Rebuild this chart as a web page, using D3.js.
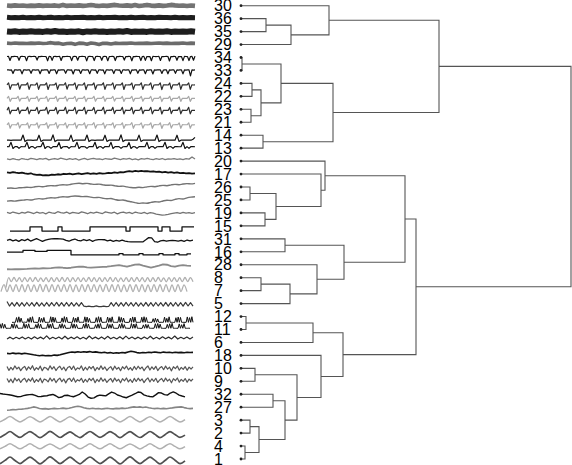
<!DOCTYPE html>
<html>
<head>
<meta charset="utf-8">
<script src="https://cdn.jsdelivr.net/npm/d3@7"></script>
<style>
  body { margin: 0; background: #fff; }
</style>
</head>
<body>
<script>
// hclust style merge table: negative = leaf label, positive = earlier merge (1-based)
var merges = [
    [-34, -33], [-4, -1], [-12, -11], [-26, -25], [-3, -2],
    [-23, -21], [-24, -22], [-10, -9], [5, 2], [7, 6],
    [-8, -7], [-14, -13], [-19, -15], [-36, -35], [-32, -27],
    [4, 13], [1, 10], [-31, -16], [15, 9], [11, -5],
    [14, -29], [8, 19], [3, -6], [-28, 20], [-17, 16],
    [-18, 22], [-20, 25], [-30, 21], [17, 12], [23, 26],
    [18, 24], [27, 31], [32, 30], [28, 29], [34, 33]
];
var mergeHeights = [
    0.01, 0.04, 0.05, 0.09, 0.09,
    0.10, 0.11, 0.14, 0.18, 0.20,
    0.20, 0.22, 0.24, 0.25, 0.32,
    0.35, 0.40, 0.44, 0.44, 0.49,
    0.50, 0.56, 0.72, 0.76, 0.80,
    0.80, 0.84, 0.88, 0.92, 1.02,
    1.03, 1.64, 1.75, 1.98, 3.30
];

// the time series shown beside each leaf
var ts30 = [0.2,-0.2,0.3,-0.1,0.2,-0.3,0.1,-0.2,0.3,-0.2,0.2,-0.1,0.3,-0.3,0.8,-0.2,0.2,-0.1,0.3,-0.2,0.2,0.7,0.1,-0.3,0.2,-0.2,0.3,0.8,0.2,-0.1,0.3,-0.2,0.7,-0.3,0.2,0.8,0.1,-0.2,0.3,-0.2,0.2,0.8,0.3,-0.1,0.2,-0.3,0.2,-0.2];
var ts36 = [1.3,0.9,1.2,1.0,1.4,0.8,1.2,1.0,1.3,0.9,1.1,1.4,0.8,1.2,1.0,1.3,0.9,1.2,1.1,1.4,0.9,1.2,1.0,1.3,0.8,1.2,1.1,1.3,0.9,1.2,1.0,1.4,0.9,1.1,1.3,1.0,1.2,0.8,1.3,1.1,1.2,0.9,1.3,1.0,1.2,0.9,1.1,1.0];
var ts35 = [0.2,-0.2,0.3,-0.3,0.1,-0.2,0.3,-0.1,0.2,-0.3,0.3,-0.2,0.6,-0.1,0.2,-0.3,0.1,-0.2,0.3,-0.6,0.2,-0.1,0.3,-0.2,0.1,-0.3,0.2,-0.2,0.3,-0.1,0.6,-0.3,0.2,-0.2,0.1,-0.3,0.3,-0.1,0.2,-0.2,0.3,-0.3,0.1,-0.2,0.2,-0.1,0.3,-0.2];
var ts29 = [1.4,1.1,1.5,1.2,1.3,1.0,1.4,1.2,1.5,1.1,1.3,1.9,1.2,1.4,0.4,1.1,1.3,0.2,1.4,1.2,0.3,1.5,1.1,0.1,1.3,1.2,0.5,1.4,1.1,1.3,1.2,1.5,1.0,1.3,1.2,1.4,1.1,1.3,1.5,1.2,1.4,1.1,1.3,1.2,1.5,1.1,1.4,1.2];
var ts34 = [1.0,1.1,-3.0,1.0,0.9,1.1,1.0,0.9,-2.8,1.0,1.1,1.0,0.9,-3.2,1.0,1.1,0.9,1.0,1.2,1.0,-2.6,1.0,0.9,1.1,1.0,1.0,0.9,-3.3,1.1,1.0,-2.9,1.0,1.2,0.9,1.0,1.1,-3.0,1.0,0.9,1.0,1.1,1.0,0.9,-3.1,1.0,1.1,1.0,-2.7,0.9,1.0,1.1,1.0,0.9,-3.4,1.0,1.1,1.0,0.9,-3.0,1.0,1.1,1.0,0.9,-2.8,1.0,1.1,1.0,-3.2,0.9,1.0,1.1,1.0,-3.0,1.0,0.9,1.1,1.0,1.0,-2.6,1.0,0.9,1.1,1.0,-3.3,1.0,0.9,1.1,1.0,1.0,-3.0,1.0,1.1,-2.9,1.0,0.9,1.0,-3.2,1.1,1.0,0.9,1.0,1.1,-3.0,1.0,0.9,1.0,1.1,1.0,-3.5,1.0,0.9,1.1,1.0,-2.8,1.0,0.9,1.0,-3.1,1.1,1.0,0.9,-3.0,1.0,1.1,-2.7,1.4];
var ts33 = [0.5,0.6,0.4,0.5,-3.1,0.5,0.6,0.4,0.5,0.5,-3.4,0.5,0.6,0.4,0.5,0.5,-2.9,0.6,0.5,0.4,0.5,0.6,-3.2,0.5,0.4,0.5,0.6,0.5,-3.0,0.5,0.4,0.6,0.5,-3.3,0.5,0.4,0.6,0.5,0.5,-2.8,0.5,0.6,0.4,0.5,-3.5,0.5,0.6,0.4,0.5,-3.0,0.5,0.6,0.4,0.5,0.5,-3.2,0.6,0.5,0.4,0.5,-2.9,0.5,0.6,0.4,0.5,-3.4,0.5,0.6,0.4,0.5,0.5,-3.1,0.6,0.5,0.4,0.5,-3.0,0.6,0.5,0.4,0.5,0.6,-3.3,0.5,0.4,0.5,0.6,-2.8,0.5,0.4,0.6,0.5,-3.2,0.5,0.4,0.6,0.5,-3.5,0.5,0.4,0.6,0.5,0.5,-3.0,0.4,0.6,0.5,-3.3,0.5,0.4,0.6,0.5,-2.9,0.5,0.4,0.6,0.5,-3.4,0.5,0.4,0.6,0.5,-5.5,0.5,0.4,0.6];
var ts24 = [
    -1.5,0.5,-6.0,-1.5,-1.5,-1.5, -1.6,0.4,-5.8,-1.5,-1.4,-1.5, -1.5,0.6,-6.0,-1.4,-1.5,-1.6, -1.5,0.5,-5.9,-1.5,-1.5,-1.4,
    -1.4,0.5,-6.1,-1.5,-1.6,-1.5, -1.5,0.4,-6.0,-1.5,-1.5,-1.5, -1.6,0.6,-5.8,-1.4,-1.5,-1.5, -1.5,0.5,-6.0,-1.5,-1.4,-1.6,
    -1.5,0.5,-6.2,-1.5,-1.5,-1.5, -1.4,0.4,-5.9,-1.6,-1.5,-1.5, -1.5,0.6,-6.0,-1.5,-1.5,-1.4, -1.6,0.5,-5.8,-1.5,-1.5,-1.5,
    -1.5,0.5,-6.1,-1.4,-1.6,-1.5, -1.5,0.4,-6.0,-1.5,-1.5,-1.5, -1.4,0.6,-5.9,-1.5,-1.5,-1.6, -1.5,0.5,-6.0,-1.6,-1.4,-1.5,
    -1.5,0.5,-6.2,-1.5,-1.5,-1.5, -1.6,0.4,-5.8,-1.5,-1.5,-1.4, -1.5,0.6,-6.0,-1.4,-1.5,-1.5, -1.5,0.5,-6.0,-1.5,-1.6,-1.5
];
var ts22 = [
    -2.0,0.0,-5.0,-2.0,-2.0,-2.0, -2.1,0.1,-4.8,-2.0,-1.9,-2.0, -2.0,-0.1,-5.0,-1.9,-2.0,-2.1, -2.0,0.0,-4.9,-2.0,-2.0,-1.9,
    -1.9,0.0,-5.1,-2.0,-2.1,-2.0, -2.0,0.1,-5.0,-2.0,-2.0,-2.0, -2.1,-0.1,-4.8,-1.9,-2.0,-2.0, -2.0,0.0,-5.0,-2.0,-1.9,-2.1,
    -2.0,0.0,-5.2,-2.0,-2.0,-2.0, -1.9,0.1,-4.9,-2.1,-2.0,-2.0, -2.0,-0.1,-5.0,-2.0,-2.0,-1.9, -2.1,0.0,-4.8,-2.0,-2.0,-2.0,
    -2.0,0.0,-5.1,-1.9,-2.1,-2.0, -2.0,0.1,-5.0,-2.0,-2.0,-2.0, -1.9,-0.1,-4.9,-2.0,-2.0,-2.1, -2.0,0.0,-5.0,-2.1,-1.9,-2.0,
    -2.0,0.0,-5.2,-2.0,-2.0,-2.0, -2.1,0.1,-4.8,-2.0,-2.0,-1.9, -2.0,-0.1,-5.0,-1.9,-2.0,-2.0, -2.0,0.0,-5.0,-2.0,-2.1,-2.0
];
var ts23 = [
    -1.0,2.0,-4.5,-1.0,-1.0,-1.0, -1.1,1.9,-4.3,-1.0,-0.9,-1.0, -1.0,2.1,-4.5,-0.9,-1.0,-1.1, -1.0,2.0,-4.4,-1.0,-1.0,-0.9,
    -0.9,2.0,-4.6,-1.0,-1.1,-1.0, -1.0,1.9,-4.5,-1.0,-1.0,-1.0, -1.1,2.1,-4.3,-0.9,-1.0,-1.0, -1.0,2.0,-4.5,-1.0,-0.9,-1.1,
    -1.0,2.0,-4.7,-1.0,-1.0,-1.0, -0.9,1.9,-4.4,-1.1,-1.0,-1.0, -1.0,2.1,-4.5,-1.0,-1.0,-0.9, -1.1,2.0,-4.3,-1.0,-1.0,-1.0,
    -1.0,2.0,-4.6,-0.9,-1.1,-1.0, -1.0,1.9,-4.5,-1.0,-1.0,-1.0, -0.9,2.1,-4.4,-1.0,-1.0,-1.1, -1.0,2.0,-4.5,-1.1,-0.9,-1.0,
    -1.0,2.0,-4.7,-1.0,-1.0,-1.0, -1.1,1.9,-4.3,-1.0,-1.0,-0.9, -1.0,2.1,-4.5,-0.9,-1.0,-1.0, -1.0,2.0,-4.5,-1.0,-1.1,-1.0
];
var ts21 = [
    -2.5,-0.5,-6.0,-2.5,-2.5,-2.5, -2.6,-0.4,-5.8,-2.5,-2.4,-2.5, -2.5,-0.6,-6.0,-2.4,-2.5,-2.6, -2.5,-0.5,-5.9,-2.5,-2.5,-2.4,
    -2.4,-0.5,-6.1,-2.5,-2.6,-2.5, -2.5,-0.4,-6.0,-2.5,-2.5,-2.5, -2.6,-0.6,-5.8,-2.4,-2.5,-2.5, -2.5,-0.5,-6.0,-2.5,-2.4,-2.6,
    -2.5,-0.5,-6.2,-2.5,-2.5,-2.5, -2.4,-0.4,-5.9,-2.6,-2.5,-2.5, -2.5,-0.6,-6.0,-2.5,-2.5,-2.4, -2.6,-0.5,-5.8,-2.5,-2.5,-2.5,
    -2.5,-0.5,-6.1,-2.4,-2.6,-2.5, -2.5,-0.4,-6.0,-2.5,-2.5,-2.5, -2.4,-0.6,-5.9,-2.5,-2.5,-2.6, -2.5,-0.5,-6.0,-2.6,-2.4,-2.5,
    -2.5,-0.5,-6.2,-2.5,-2.5,-2.5, -2.6,-0.4,-5.8,-2.5,-2.5,-2.4, -2.5,-0.6,-6.0,-2.4,-2.5,-2.5, -2.5,-0.5,-6.0,-2.5,-2.6,-2.5
];
var ts14 = [-5,-5,-5.1,-5,-5,-4.9,-5,-5,0.2,-6.3,-5,-5,-5,-5.1,-5,-5,0,-6.2,-5,-5,-5,-5,-5,0.3,-6.4,-5,-5,-5,-4.9,-5,-5,-5,0.1,-6.2,-5,-5,-5,-5,-5,-5,0.2,-6.3,-5,-5,-5.1,-5,-5,-5,-5,0,-6.2,-5,-5,-5,-5,-5,-5,0.3,-6.4,-5,-5,-5,-5,-5,-5,-5,0.1,-6.2,-5,-5,-5,-5,-5,-5,-5,0.2,-6.3,-5,-5,-5,-5,-5,-5,-5,-5,0,-6.2,-5,-5,-5,-5,-5,-5,-4,-2.2];
var ts13 = [1.5,1.4,5.8,-0.3,1.5,1.6,-0.2,1.5,1.4,1.5,5.8,-0.3,1.6,1.5,-0.2,1.4,1.5,1.6,5.9,-0.3,1.5,1.4,-0.2,1.5,1.6,1.5,5.7,-0.3,1.4,1.5,1.6,-0.2,1.5,1.4,1.5,5.8,-0.3,1.6,1.5,1.4,-0.2,1.5,1.6,1.5,5.9,-0.3,1.4,1.5,-0.2,1.6,1.5,1.4,5.8,-0.3,1.5,1.6,1.5,-0.2,1.4,1.5,1.6,5.7,-0.3,1.5,1.4,-0.2,1.5,1.6,1.5,1.4,5.8,-0.3,1.5,1.6,-0.2,1.4,1.5,1.6,1.5,5.9,-0.3,1.4,1.5,-0.2,1.6,1.5,1.4,1.5,5.8,-0.3,1.5,-0.2,1.6,1.5,1.4];
var ts20 = [2.3,1.6,2.5,1.8,1.2,2.6,2.0,1.5,2.8,2.2,1.4,2.4,1.9,2.7,1.3,2.1,2.6,1.7,2.9,2.2,1.5,2.5,1.8,2.4,1.1,2.0,2.7,1.6,2.3,2.8,1.9,2.2,1.4,2.6,2.1,1.7,2.9,2.3,1.5,2.4,2.0,2.7,1.6,2.2,1.3,2.5,1.9,2.8,2.1,1.5,2.4,1.8,2.6,1.4,2.2,1.9,2.5,1.7,2.3,1.6,2.4,2.0,4.2,2.2];
var ts17 = [1.7,1.2,2.0,1.4,0.9,1.5,0.6,0.2,0.8,-0.4,-0.9,-0.5,-1.3,-1.0,-1.4,-0.6,-0.9,-0.2,-0.5,0.3,-0.1,0.4,-0.3,0.2,0.6,-0.1,0.5,0.9,0.3,0.7,0.2,1.0,0.4,0.8,1.3,0.9,1.6,1.2,2.0,1.7,2.4,2.9,2.5,3.1,2.7,3.2,2.8,3.0,2.4,2.8,2.1,2.5,1.8,2.2,1.4,1.9,1.2,1.6,0.9,1.3,0.6,1.0,0.4,0.7];
var ts26 = [-1.3,-1.0,-1.4,-0.8,-0.6,-0.2,-0.5,0.3,0.6,0.2,1.0,1.4,1.1,1.9,2.3,2.0,2.8,3.4,3.7,3.3,3.6,3.0,2.6,2.9,2.2,1.7,1.9,1.2,0.6,0.9,0.1,-0.5,-0.7,-0.3,-0.6,0.2,0.6,0.3,1.1,1.6,1.3,2.1,2.6,2.3,3.0,3.4,3.1,3.7];
var ts25 = [-1.1,-0.8,-1.2,-0.5,-0.2,0.3,-0.1,0.8,1.3,0.9,1.7,2.2,1.9,2.7,3.2,2.9,3.6,3.9,3.7,3.3,3.5,2.8,2.3,2.6,1.7,1.2,1.4,0.4,-0.3,0.0,-1.0,-1.8,-2.6,-3.4,-3.0,-3.3,-2.4,-1.8,-2.1,-1.0,-0.3,-0.6,0.6,1.3,1.0,2.1,2.8,3.2];
var ts19 = [0.5,-0.4,0.9,0.1,-0.8,0.6,-0.2,1.1,0.3,-0.6,0.8,-0.1,0.4,-0.9,0.7,0.0,-0.5,1.2,0.2,-0.3,0.9,-0.7,0.5,0.1,-0.4,1.0,0.3,-0.8,0.6,-0.2,0.8,0.0,-0.6,1.1,0.4,-0.3,0.7,-0.9,0.2,0.9,-0.1,0.5,-0.6,0.8,0.1,-0.4,0.6,-0.8,0.3,-0.3,-1.2,-1.6,-2.3,-1.9,-1.4,-0.8,-0.2,0.4,-0.5,0.6,-0.1,0.3,-0.4,0.2];
var ts15 = [-5.2,-5.2,-5.2,-5.2,-5.2,-1,-1,-1,-5.2,-5.2,-5.2,-5.2,-1,-5.2,-5.2,-5.2,-5.2,-5.2,-5.2,-5.2,-1,-1,-1,-1,-1,-1,-1,-1,-1,-5.2,-1,-1,-1,-1,-1,-1,-1,-5.2,-1,-1,-5.2,-5.2,-5.2,-1,-1,-1,-1];
var ts31 = [-1.5,-0.5,-2.0,-1.0,-2.5,-0.8,-1.8,-0.3,-2.2,-1.0,0.2,-1.2,-2.6,-1.4,-0.6,0.0,0.1,0.1,0.0,-0.4,-1.6,-2.4,-1.0,-0.2,-1.5,-2.0,-0.7,-1.8,-0.9,-2.5,-1.2,-0.8,-0.8,-0.9,-2.1,-1.3,-2.6,-1.6,-2.3,-1.4,-2.2,-2.8,-3.0,-3.0,-3.1,-3.0,-3.1,-1.0,1.2,1.0,-2.8,-3.4,-2.0,-1.5,-2.4,-1.8,-1.6,-1.7,-2.3,-1.5,-2.6,-1.2,-2.0,-1.4];
var ts16 = [-0.3,-0.3,-0.3,-0.3,1.4,1.4,1.4,0.4,0.4,0.4,1.4,1.4,1.4,1.4,1.4,1.4,-3,-3,-3,-3,-3,-3,-3,-3,-3,-3,-3,-3,-1.8,-3,-3,-3,-3,-1.8,-3,-3,-3,-3,-1.8,-3,-3,-3,-1.8,-3,-3,-2,-2];
var ts28 = [-4.5,-4.6,-4.4,-4.5,-4.3,-4.2,-3.9,-3.6,-3.8,-3.5,-3.6,-3.4,-3.0,-2.6,-3.0,-3.3,-3.0,-2.5,-2.0,-1.8,-2.6,-3.0,-2.6,-2.4,-2.2,-2.0,-1.5,-0.8,-0.3,-1.2,-2.0,-1.0,0.2,0.4,-0.8,-1.8,-2.8,-2.0,-1.0,0.3,0.0,-1.3,-2.0,-1.0,-0.3,-0.8,-1.2];
var ts8 = [-10,0,-4,0.2,-3.8,0,-4.1,0.1,-3.9,0,-4,0.2,-4,-0.1,-3.8,0,-4.1,0.1,-4,0,-3.9,0.2,-4,0,-4.1,0.1,-3.8,0,-4,-0.1,-4,0.2,-3.9,0,-4.1,0.1,-4,0,-3.8,0.2,-4,0,-4.1,-0.1,-3.9,0.1,-4,0,-4,0.2,-3.8,0,-4.1,0.1,-4,0,-3.9,0.2,-4,-0.1,-4.1,0,-3.8,0.1,-4,0,-4,0.2,-3.9,0,-4];
var ts7 = [-1,6,-1,5.8,-0.9,6.1,-1,5.9,-1.1,6,-1,5.7,-0.9,6.2,-1,5.9,-1.1,6,-1,5.8,-0.9,6.1,-1,6,-1.1,5.8,-1,6.1,-0.9,5.9,-1,6,-1.1,5.7,-1,6.2,-0.9,5.9,-1,6,-1.1,5.8,-1,6.1,-0.9,5.9,-1,6,-1.1,5.8,-1,6.1,-0.9,5.9,-1,6,-1.1,5.7,-1,6.1,-0.9,5.8,-1];
var ts5 = [2.0,-2.5,1.0,-2.5,1.2,-2.6,0.9,-2.5,1.1,-2.4,1.0,-2.6,1.2,-2.5,0.8,-2.5,1.1,-2.6,1.0,-2.4,1.2,-2.5,0.9,-2.6,1.1,-2.5,1.0,-2.5,0.8,-2.6,1.0,-2.5,-3.0,-2.6,-3.1,-3.0,-2.3,-3.0,-3.1,-2.6,-3.0,-2.9,1.0,-2.5,1.1,-2.6,0.9,-2.5,1.2,-2.4,1.0,-2.5,1.1,-2.6,0.8,-2.5,1.2,-2.5,1.0,-2.6,1.1,-2.4,0.9,-2.5,1.2,-2.6,1.0,-2.5,1.1,-2.5,0.9,-2.6,1.2,-2.4,1.0,-2.5];
var ts12 = [
    -5.8,-5.8,-5.8,-5.8,-1.0,-5.8,-0.3,-5.8,-1.6,-5.8,
    -5.8,-5.6,-5.8,-5.8,-2.0,-5.8,-0.8,-5.8,-0.2,-5.8,
    -5.8,-5.8,-5.9,-5.8,-0.6,-5.8,-1.8,-5.8,-0.9,-5.8,
    -5.8,-5.8,-5.8,-5.7,-0.2,-5.8,-0.5,-5.8,-1.2,-5.8,
    -5.8,-5.9,-5.8,-5.8,-1.4,-5.8,-0.1,-5.8,-0.7,-5.8,
    -5.8,-5.8,-5.8,-5.8,-0.9,-5.8,-1.6,-5.8,-0.4,-5.8,
    -5.8,-5.7,-5.8,-5.8,-0.3,-5.8,-0.6,-5.8,-1.9,-5.8,
    -5.8,-5.8,-5.8,-5.9,-1.1,-5.8,-0.2,-5.8,-0.8,-5.8,
    -5.8,-5.8,-5.7,-5.8,-0.5,-5.8,-1.3,-5.8,-0.3,-5.8,
    -5.8,-5.8,-5.8,-5.8,-0.1,-5.8,-0.9,-5.8,-1.5,-5.8,
    -5.8,-5.9,-5.8,-5.8,-1.7,-5.8,-0.4,-5.8,-0.6,-5.8,
    -5.8,-5.8,-5.8,-5.7,-0.8,-5.8,-0.2,-5.8,-1.0,-5.8,
    -5.8,-5.8,-5.8,-5.8,-2.2,-5.8,-1.6,-5.8,-2.4,-5.8,
    -5.8,-5.7,-5.8,-5.8,-0.6,-5.8,-1.8,-5.8,-0.3,-5.8,
    -5.8,-5.8,-5.9,-5.8,-1.2,-5.8,-0.5,-5.8,-0.9,-5.8,
    -5.8,-5.8,-5.8,-5.8,-0.4,-5.8,-1.1,-5.8,-0.2,-5.8
];
var ts11 = [
    5.8,1.2,6.1,1.2,5.2,1.2,1.2,1.2,1.1,1.2,
    5.5,1.2,6.0,1.2,4.8,1.2,1.2,1.3,1.2,1.2,
    6.2,1.2,5.1,1.2,5.7,1.2,1.1,1.2,1.2,1.2,
    4.9,1.2,6.0,1.2,5.4,1.2,1.2,1.2,1.3,1.2,
    5.9,1.2,5.3,1.2,6.1,1.2,1.2,1.1,1.2,1.2,
    5.2,1.2,5.8,1.2,4.7,1.2,1.2,1.2,1.2,1.3,
    6.1,1.2,5.6,1.2,5.0,1.2,1.1,1.2,1.2,1.2,
    5.4,1.2,6.2,1.2,5.5,1.2,1.2,1.2,1.3,1.2,
    4.8,1.2,5.7,1.2,6.0,1.2,1.2,1.1,1.2,1.2,
    5.9,1.2,5.0,1.2,5.6,1.2,1.2,1.2,1.2,1.2,
    5.3,1.2,6.1,1.2,4.9,1.2,1.3,1.2,1.2,1.2,
    6.0,1.2,5.5,1.2,5.8,1.2,1.2,1.2,1.1,1.2,
    4.6,1.2,5.2,1.2,4.9,1.2,1.2,1.2,1.2,1.3,
    5.8,1.2,6.0,1.2,5.3,1.2,1.2,1.1,1.2,1.2,
    5.1,1.2,5.7,1.2,6.2,1.2,1.2,1.2,1.2,1.2,
    5.6,1.2,4.8,1.2,5.9,1.2,1.2,1.2,1.3,1.2
];
var ts6 = [3.5,5.3,3.4,5.2,3.6,5.5,3.5,5.1,3.4,5.6,3.6,5.3,3.5,6.5,3.4,5.2,3.6,5.4,3.5,6.2,3.4,5.3,3.6,5.6,3.5,5.2,3.4,6.4,3.6,5.3,3.5,5.5,3.4,6.1,3.6,5.2,3.5,5.6,3.4,6.3,3.6,5.4,3.5,5.3,3.4,5.5,3.6,6.2,3.5,5.1,3.4,5.6,3.6,5.3,3.5,6.4,3.4,5.2,3.6,5.5,3.5,5.4];
var ts18 = [2.0,1.6,2.3,1.8,2.1,1.5,2.2,1.7,1.2,0.6,0.1,-0.3,0.2,-0.4,-0.1,-0.4,0.3,0.0,0.6,1.4,2.2,2.8,3.4,3.0,3.6,3.2,3.7,3.3,3.8,3.1,3.5,3.0,2.6,3.1,2.4,2.8,2.2,2.6,2.3,2.9,2.5,3.4,4.2,3.6,2.8,2.4,2.9,2.6,3.2,2.8,3.4,3.0,2.7,3.3,2.9,3.1,2.6,3.2,2.8,3.0,2.7,3.1,2.9,3.0];
var ts10 = [1.8,-2.1,0.9,-1.5,2.4,-0.6,1.2,-2.3,0.4,2.0,-1.8,1.5,-0.9,2.6,-2.0,0.7,-1.2,2.2,-2.4,1.0,0.3,-1.7,2.5,-0.8,1.6,-2.2,0.6,2.1,-1.4,1.3,-2.5,0.8,1.9,-1.1,2.3,-1.9,0.5,-0.7,2.4,-2.1,1.1,-1.6,1.8,-0.4,2.0,-2.3,0.9,-1.3,2.5,-1.0,1.4,-2.2,0.2,1.7,-1.8,2.2,-0.9,1.0,-2.4,1.6,-0.5,2.3,-1.5,0.8,-2.0,1.9,-1.2,2.1,-0.6,1.3,-2.3,0.6,2.4,-1.7,1.5,-1.0,2.0,-2.2,0.4,1.8,-1.4,2.2,-0.8,1.1,-2.5,1.6,-0.3,2.3,-1.9,0.9,-1.1,1.7,-2.0,1.2,-0.7,1.4];
var ts9 = [2.8,-0.9,2.1,-1.4,3.2,0.3,2.5,-1.2,1.6,3.0,-0.8,2.4,0.1,3.4,-1.1,1.8,-0.3,3.1,-1.5,2.2,1.4,-0.6,3.3,0.2,2.7,-1.3,1.5,3.2,-0.4,2.3,-1.6,1.9,2.9,-0.2,3.3,-0.9,1.6,0.4,3.0,-1.2,2.0,-0.7,2.8,0.6,3.1,-1.4,1.9,-0.3,3.4,0.0,2.4,-1.2,1.2,2.7,-0.8,3.2,0.1,2.0,-1.5,2.6,0.5,3.3,-0.6,1.8,-1.1,2.9,-0.2,3.1,0.4,2.3,-1.3,1.6,3.4,-0.7,2.5,0.0,3.0,-1.2,1.4,2.8,-0.4,3.2,0.2,2.1,-1.5,2.6,0.7,3.3,-0.9,1.9,-0.1,2.7,-1.0,2.2,0.3,2.4];
var ts32 = [0.8,0.3,-0.1,-0.5,-1.0,-1.8,-2.5,-2.4,-1.4,-0.8,-0.4,-0.3,-1.2,-2.4,-2.3,-1.8,-1.5,-0.7,-0.2,-1.5,-3.4,-2.8,-1.2,-1.0,-1.9,-2.5,-1.3,-0.2,2.2,0.2,-2.8,-4.0,-3.6,-1.8,-0.9,-1.2,-1.6,0.4,2.2,1.2,-0.8,-1.7,-2.8,-3.5,-2.2,-0.9,0.5,2.2,1.8,-0.6,-1.6,-2.2,-2.6,-0.6,1.6,1.2,-0.4,-0.9,1.2,2.4,1.0,-0.9,-1.8,-2.6];
var ts27 = [-3.0,-2.8,-2.4,-2.6,-2.1,-1.9,-1.6,-1.2,-0.6,0.3,-0.4,-1.3,-1.7,-1.4,-1.9,-1.5,-1.2,-1.6,-1.3,-0.9,-1.4,-1.0,-0.3,0.5,1.0,0.4,-0.6,-1.2,-1.5,-1.1,-1.6,-1.3,-1.8,-1.4,-1.1,-1.5,-1.7,-1.2,-1.4,-0.9,-1.3,-0.8,-0.2,0.3,-0.1,0.3,-0.3,0.2,-0.5,-1.1,-1.4,-1.0,-1.5,-1.2,-1.6,-1.1,-0.7,-0.2,0.1,0.3,-0.4,-1.0,-1.4,-1.2];
var ts3 = [-1.8,0.9,3.6,0.8,-1.9,0.8,3.5,0.9,-1.8,0.7,3.6,0.9,-1.9,0.8,3.5,0.8,-1.8,0.9,3.6,0.8,-1.9,0.7,3.5,0.9,-1.8,0.8,3.6,0.8,-1.9,0.9,3.5,0.7,-1.8,0.8,3.6,0.9,-1.9,0.6];
var ts2 = [-4.5,-1.4,1.6,-1.6,-4.3,-1.2,1.4,-1.5,-4.6,-1.6,1.7,-1.3,-4.4,-1.5,1.3,-1.8,-4.5,-1.3,1.6,-1.4,-4.3,-1.6,1.5,-1.2,-4.6,-1.4,1.4,-1.7,-4.4,-1.5,1.6,-1.3,-4.5,-1.6,1.5,-1.4,-4.3,-2.0];
var ts4 = [-2.8,-0.3,2.2,-0.2,-2.7,-0.3,2.3,-0.4,-2.8,-0.2,2.1,-0.3,-2.9,-0.3,2.2,-0.2,-2.8,-0.4,2.3,-0.3,-2.7,-0.2,2.2,-0.3,-2.8,-0.3,2.1,-0.2,-2.9,-0.4,2.2,-0.3,-2.8,-0.2,2.3,-0.3,-2.7,-0.6];
var ts1 = [-4.8,-1.4,2.0,-1.5,-4.6,-1.2,1.8,-1.3,-4.9,-1.5,2.1,-1.2,-4.7,-1.4,1.9,-1.6,-4.8,-1.2,2.0,-1.4,-4.6,-1.5,1.8,-1.3,-4.9,-1.4,2.1,-1.5,-4.7,-1.3,1.9,-1.4,-4.8,-1.5,2.0,-1.2,-4.6,-1.8];

var seriesByLeaf = {
    30: ts30, 36: ts36, 35: ts35, 29: ts29, 34: ts34, 33: ts33, 24: ts24, 22: ts22, 23: ts23,
    21: ts21, 14: ts14, 13: ts13, 20: ts20, 17: ts17, 26: ts26, 25: ts25, 19: ts19, 15: ts15,
    31: ts31, 16: ts16, 28: ts28, 8: ts8, 7: ts7, 5: ts5, 12: ts12, 11: ts11, 6: ts6,
    18: ts18, 10: ts10, 9: ts9, 32: ts32, 27: ts27, 3: ts3, 2: ts2, 4: ts4, 1: ts1
};

// drawing style of each sparkline: colour, stroke, horizontal extent, curve
var sparkStyle = {
    30: ["#737373", 4.6, 7, 195], 36: ["#1e1e1e", 5.0, 7, 195], 35: ["#1e1e1e", 6.0, 7, 195],
    29: ["#6b6b6b", 3.6, 7, 195], 34: ["#111", 1.2, 7, 195], 33: ["#111", 1.2, 7, 195],
    24: ["#2e2e2e", 1.2, 7, 195], 22: ["#a8a8a8", 1.2, 7, 195], 23: ["#2e2e2e", 1.2, 7, 195],
    21: ["#a8a8a8", 1.2, 7, 195], 14: ["#111", 1.2, 7, 195], 13: ["#111", 1.2, 7, 195],
    20: ["#7a7a7a", 1.3, 7, 195], 17: ["#111", 1.8, 7, 195], 26: ["#737373", 1.4, 7, 195, "smooth"],
    25: ["#737373", 1.4, 7, 195, "smooth"], 19: ["#737373", 1.3, 7, 195], 15: ["#111", 1.3, 10, 194, "step"],
    31: ["#111", 1.3, 7, 193], 16: ["#111", 1.3, 7, 191, "step"], 28: ["#8a8a8a", 1.8, 7, 191],
    8: ["#b0b0b0", 1.3, 6, 193, "smooth"], 7: ["#b0b0b0", 1.3, 1, 187, "smooth"], 5: ["#3a3a3a", 1.2, 7, 193],
    12: ["#111", 1.0, 12, 193], 11: ["#111", 1.0, 0, 190], 6: ["#2a2a2a", 1.2, 7, 193],
    18: ["#111", 1.6, 7, 193], 10: ["#555", 1.2, 7, 193], 9: ["#555", 1.2, 7, 193],
    32: ["#111", 1.4, 0, 185], 27: ["#858585", 1.6, 7, 193], 3: ["#b0b0b0", 1.5, 0, 185, "smooth"],
    2: ["#505050", 1.7, 0, 185, "smooth"], 4: ["#b0b0b0", 1.5, 0, 185, "smooth"], 1: ["#505050", 1.7, 0, 185, "smooth"]
};

function main() {
    var w = 572;
    var h = 465;
    var svg = d3.select("body")
        .append("svg")
        .attr("width", w)
        .attr("height", h);

    // turn the merge table into a nested tree
    function buildNode(id) {
        if (id < 0)
            return { name: String(-id), height: 0 };
        var m = merges[id - 1];
        return { name: "m" + id, height: mergeHeights[id - 1], children: [buildNode(m[0]), buildNode(m[1])] };
    }
    var root = d3.hierarchy(buildNode(merges.length));
    var leaves = root.leaves();

    var y = d3.scalePoint()
        .domain(leaves.map(function(d) { return d.data.name; }))
        .range([5.7, 459]);
    var x = d3.scaleLinear()
        .domain([0, d3.max(mergeHeights)])
        .range([241, 571]);

    root.eachAfter(function(d) {
        d.py = d.children ? (d.children[0].py + d.children[1].py) / 2 : y(d.data.name);
        d.px = x(d.data.height);
    });

    // dendrogram elbows
    svg.append("g")
        .selectAll("path")
        .data(root.descendants().filter(function(d) { return d.children; }))
        .enter()
        .append("path")
        .attr("d", function(d) {
            var a = d.children[0], b = d.children[1];
            return "M" + a.px + "," + a.py + "H" + d.px + "V" + b.py + "H" + b.px;
        })
        .attr("fill", "none")
        .attr("stroke", "#555")
        .attr("stroke-width", 1.1);

    svg.append("g")
        .selectAll("circle")
        .data(leaves)
        .enter()
        .append("circle")
        .attr("cx", function(d) { return d.px; })
        .attr("cy", function(d) { return d.py; })
        .attr("r", 1.4)
        .attr("fill", "#222");

    svg.append("g")
        .selectAll("text")
        .data(leaves)
        .enter()
        .append("text")
        .text(function(d) { return d.data.name; })
        .attr("x", 214)
        .attr("y", function(d) { return d.py; })
        .attr("dy", "0.36em")
        .attr("font-family", "'Liberation Sans', Arial, sans-serif")
        .attr("font-size", "16px")
        .attr("fill", "#000");

    // sparklines beside the labels
    var curves = { step: d3.curveStepAfter, smooth: d3.curveMonotoneX };
    var spark = svg.append("g");
    leaves.forEach(function(leaf) {
        var name = leaf.data.name;
        var vals = seriesByLeaf[name];
        var st = sparkStyle[name];
        var sx = d3.scaleLinear().domain([0, vals.length - 1]).range([st[2], st[3]]);
        var sy = d3.scaleLinear().domain([-6.5, 6.5]).range([leaf.py + 6.5, leaf.py - 6.5]);
        var line = d3.line()
            .x(function(v, i) { return sx(i); })
            .y(function(v) { return sy(v); })
            .curve(curves[st[4]] || d3.curveLinear);
        spark.append("path")
            .datum(vals)
            .attr("d", line)
            .attr("fill", "none")
            .attr("stroke", st[0])
            .attr("stroke-width", st[1])
            .attr("stroke-linejoin", "round");
    });
}

main();
</script>
</body>
</html>
